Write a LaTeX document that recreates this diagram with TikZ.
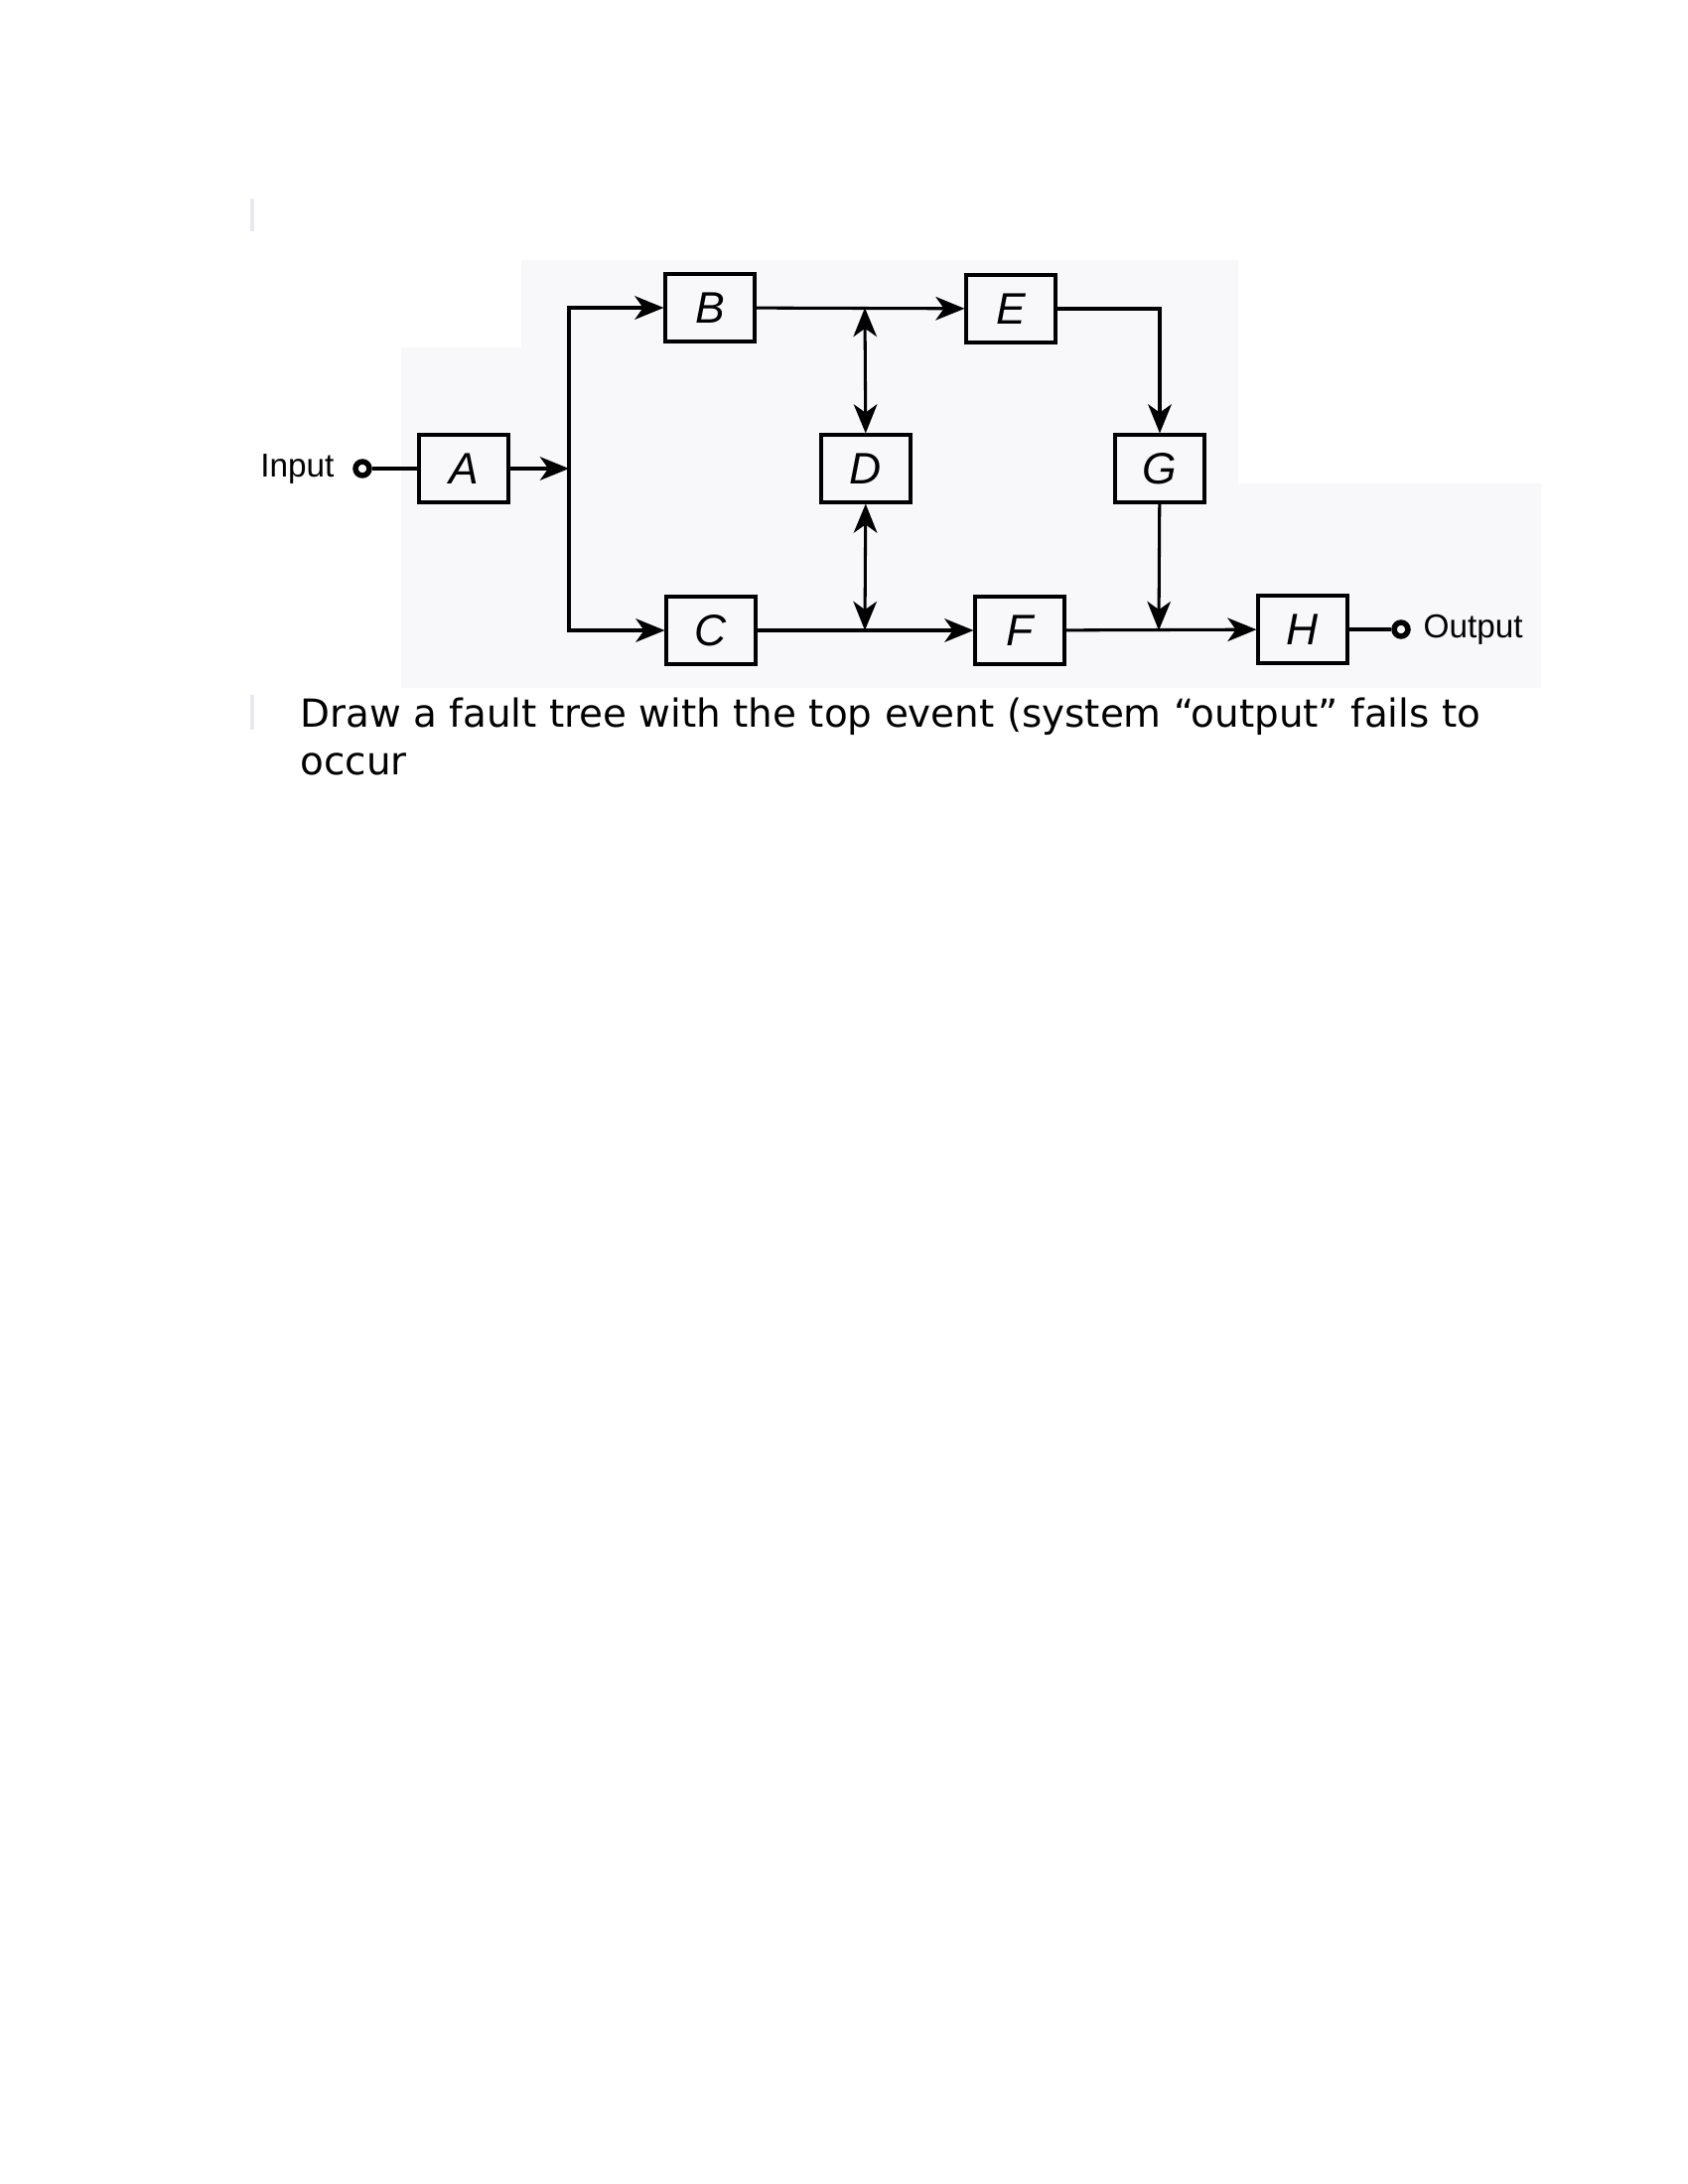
\documentclass[tikz,border=0pt]{standalone}
\usepackage{fontspec}
\setmainfont{DejaVu Sans}
\newfontfamily\diagfont{Liberation Sans}
\usetikzlibrary{positioning,arrows.meta}
\definecolor{scangray}{RGB}{248,248,251}
\definecolor{markgray}{RGB}{232,232,240}

\begin{document}
\begin{tikzpicture}[x=0.36pt,y=-0.36pt,
    block/.style={draw, line width=1.3pt, minimum width=32.2pt, minimum height=24.3pt,
        inner sep=0pt, font=\diagfont\fontsize{16}{16}\selectfont\itshape},
    wire/.style={line width=1.1pt},
    flow/.style={wire, -{Stealth[length=10.5pt,width=8.5pt,inset=3pt]}},
    both/.style={wire, {Stealth[length=10.5pt,width=8.5pt,inset=3pt]}-{Stealth[length=10.5pt,width=8.5pt,inset=3pt]}},
    port/.style={circle, draw, line width=2pt, minimum size=5pt, inner sep=0pt},
    tag/.style={font=\diagfont\fontsize{12}{12}\selectfont, inner sep=0pt}
]
\useasboundingbox (0,0) rectangle (1700,2200);

% scanned backdrop
\fill[scangray] (525,262) -- (1247,262) -- (1247,487) -- (1552,487) -- (1552,693)
    -- (404,693) -- (404,350) -- (525,350) -- cycle;
\fill[markgray] (252,200) rectangle (256,233);
\fill[markgray] (252,700) rectangle (256,735);

% blocks
\node[block] (A) at (467,472) {A};
\node[block] (B) at (715,310) {B};
\node[block] (C) at (716,635) {C};
\node[block] (D) at (872,472) {D};
\node[block] (E) at (1018,311) {E};
\node[block] (F) at (1027,635) {F};
\node[block] (G) at (1168,472) {G};
\node[block] (H) at (1312,634) {H};

% ports
\node[port] (in) at (365,472) {};
\node[port] (out) at (1411,634) {};
\node[tag, anchor=base east] (inlabel) at (337,480) {Input};
\node[tag, anchor=base west] (outlabel) at (1433,642) {Output};

% junctions
\coordinate (bus) at (573,472);
\coordinate (topjoin) at (871,310);
\coordinate (lowjoin) at (871,635);
\coordinate (merge) at (1167,635);

% connections
\draw[wire] (in) -- (A);
\draw[flow] (A) -- (bus);
\draw[flow] (bus) |- (B.west);
\draw[flow] (bus) |- (C.west);
\draw[flow] (B) -- (E);
\draw[flow] (C) -- (F);
\draw[both] (topjoin) -- (D);
\draw[both] (D) -- (lowjoin);
\draw[flow] (E.east) -| (G.north);
\draw[flow] (G) -- (merge);
\draw[flow] (F) -- (H);
\draw[wire] (H) -- (out);

% question
\node[anchor=base west, inner sep=0pt, font=\fontsize{14}{17}\selectfont] (task) at (302,732)
    {Draw a fault tree with the top event (system “output” fails to};
\node[anchor=base west, inner sep=0pt, font=\fontsize{14}{17}\selectfont] (taskend) at (302,780)
    {occur};
\end{tikzpicture}
\end{document}
